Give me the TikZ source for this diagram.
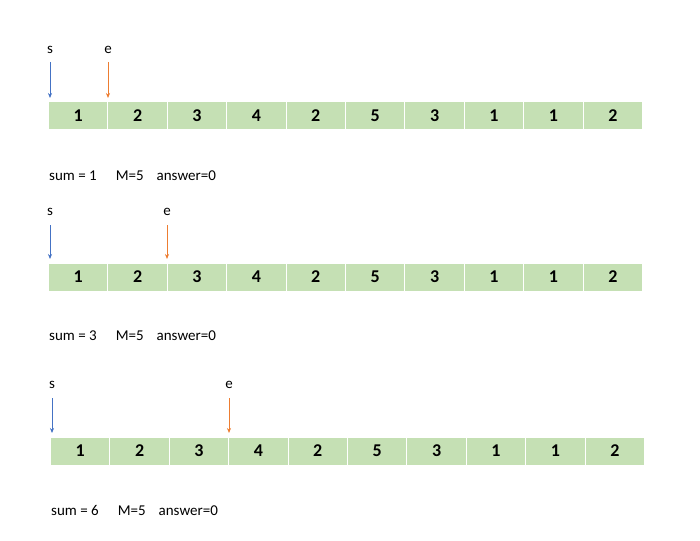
\documentclass[tikz,border=0pt]{standalone}
\usepackage{fontspec}
\setmainfont{Carlito}
\usetikzlibrary{arrows.meta}
\definecolor{cellg}{HTML}{C5E0B4}
\definecolor{sblue}{HTML}{4472C4}
\definecolor{eorng}{HTML}{ED7D31}
\tikzset{
 cellbox/.style={draw=white,line width=1pt,fill=cellg,minimum width=59.4pt,minimum height=28pt,inner sep=0pt,font=\bfseries\fontsize{18}{20}\selectfont,anchor=west},
 lbl/.style={font=\fontsize{15}{17}\selectfont,inner sep=0pt},
 sarr/.style={draw=sblue,-{Stealth[length=5pt,width=4pt]},line width=0.7pt},
 earr/.style={draw=eorng,-{Stealth[length=5pt,width=4pt]},line width=0.7pt},
 info/.style={font=\fontsize{15}{17}\selectfont,anchor=west,inner sep=0pt}
}
\begin{document}
\begin{tikzpicture}[x=1pt,y=-1pt]
\useasboundingbox (0,0) rectangle (700,540);
\foreach \r/\xo/\ym/\sx/\ex/\ly/\at/\ab/\iy/\sm in {1/48/116/50/108/50/62/98/176/1, 2/48/277/50/167/212/225/259/336/3, 3/50/451/52/229/385/398/433/510/6}{
  \foreach \v [count=\i] in {1,2,3,4,2,5,3,1,1,2}{
    \node[cellbox] (c\r-\i) at (\xo+59.4*\i-59.4,\ym) {\v};
  }
  \node[lbl] (s\r) at (\sx,\ly) {s};
  \node[lbl] (e\r) at (\ex,\ly) {e};
  \coordinate (st\r) at (\sx,\at);
  \coordinate (sb\r) at (\sx,\ab);
  \coordinate (et\r) at (\ex,\at);
  \coordinate (eb\r) at (\ex,\ab);
  \draw[sarr] (st\r) -- (sb\r);
  \draw[earr] (et\r) -- (eb\r);
  \node[info] (i\r) at (\xo+1,\iy) {sum = \sm\hspace{19pt}M=5\hspace{13pt}answer=0};
}
\end{tikzpicture}
\end{document}
